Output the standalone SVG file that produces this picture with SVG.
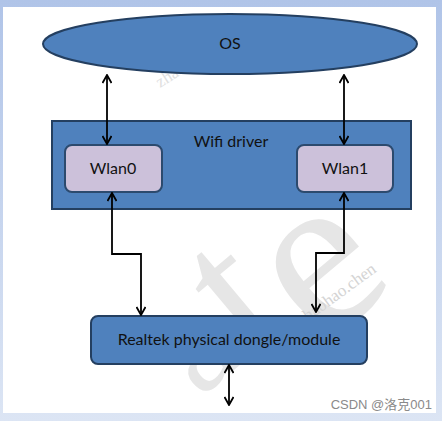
<svg xmlns="http://www.w3.org/2000/svg" width="442" height="421" viewBox="0 0 442 421">
  <defs>
    <linearGradient id="bg" x1="0" y1="0" x2="0" y2="1">
      <stop offset="0" stop-color="#b0c4e8"/>
      <stop offset="1" stop-color="#dce5f4"/>
    </linearGradient>
    <marker id="ah" viewBox="0 0 10 10" refX="9" refY="5" markerWidth="10" markerHeight="10" markerUnits="userSpaceOnUse" orient="auto-start-reverse">
      <path d="M1,0.5 L9,5 L1,9.5" fill="none" stroke="#000" stroke-width="1.8"/>
    </marker>
  </defs>
  <style>
    .blue { fill: #4f81bd; stroke: #243f60; stroke-width: 2; }
    .pink { fill: #ccc1da; stroke: #2c4a6e; stroke-width: 2; }
    .lbl { font-family: Lato, "Liberation Sans", sans-serif; fill: #111; text-anchor: middle; font-size: 16px; }
    .wire { fill: none; stroke: #000; stroke-width: 1.8; marker-start: url(#ah); marker-end: url(#ah); }
    .wm { font-family: "Liberation Serif", serif; fill: #e6e6e6; text-anchor: middle; }
  </style>
  <rect x="0" y="0" width="442" height="421" fill="url(#bg)"/>
  <rect x="3" y="7" width="433" height="406" fill="#ffffff"/>
  <g id="watermark">
    <text class="wm" x="0" y="0" font-size="130" transform="translate(222,380) rotate(-40)">a</text>
    <text class="wm" x="0" y="0" font-size="200" transform="translate(272,340) rotate(-40)">t</text>
    <text class="wm" x="0" y="0" font-size="230" transform="translate(360,315) rotate(-40)">e</text>
    <text x="0" y="0" font-family="'Liberation Serif', serif" font-size="17" fill="#d4d4d4" transform="translate(302,326) rotate(-36)">zhaohao.chen</text>
    <text x="0" y="0" font-family="'Liberation Serif', serif" font-size="17" fill="#e0e0e0" transform="translate(160,88) rotate(-32)">zhaohao.chen</text>
  </g>
  <g id="os">
    <ellipse class="blue" cx="230" cy="44" rx="187" ry="30"/>
    <text class="lbl" x="230" y="49">OS</text>
  </g>
  <g id="wifi-driver">
    <rect class="blue" x="52" y="121" width="359" height="88"/>
    <text class="lbl" x="231" y="147">Wifi driver</text>
  </g>
  <g id="wlan0">
    <rect class="pink" x="65" y="145" width="97" height="47" rx="7"/>
    <text class="lbl" x="113" y="174">Wlan0</text>
  </g>
  <g id="wlan1">
    <rect class="pink" x="297" y="145" width="96" height="47" rx="7"/>
    <text class="lbl" x="345" y="174">Wlan1</text>
  </g>
  <g id="dongle">
    <rect class="blue" x="91" y="316" width="276" height="48" rx="7"/>
    <text class="lbl" x="229" y="345">Realtek physical dongle/module</text>
  </g>
  <g id="connectors">
    <path class="wire" d="M107,75 L107,144"/>
    <path class="wire" d="M344,75 L344,144"/>
    <path class="wire" d="M112,193 L112,254 L141,254 L141,315"/>
    <path class="wire" d="M344,193 L344,253 L316,253 L316,312"/>
    <path class="wire" d="M229,365 L229,405"/>
  </g>
  <text x="432" y="409" font-family="'Liberation Sans', 'Noto Sans CJK SC', sans-serif" font-size="13" fill="#8a8a8a" text-anchor="end">CSDN @洛克001</text>
</svg>
